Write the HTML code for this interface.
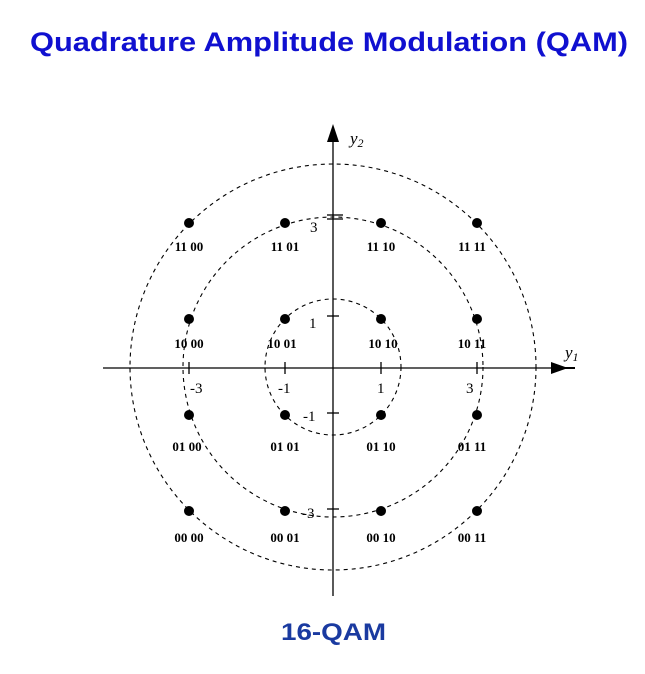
<!DOCTYPE html>
<html><head><style>
body{margin:0;background:#fff;width:645px;height:669px;overflow:hidden}
</style></head><body>
<svg width="645" height="669" xmlns="http://www.w3.org/2000/svg">
<text x="30" y="51" textLength="598" lengthAdjust="spacingAndGlyphs" font-family="Liberation Sans, sans-serif" font-weight="bold" font-size="27" fill="#1010d0">Quadrature Amplitude Modulation (QAM)</text>
<text x="281" y="640" textLength="105" lengthAdjust="spacingAndGlyphs" font-family="Liberation Sans, sans-serif" font-weight="bold" font-size="24" fill="#1a3aa0">16-QAM</text>
<g fill="none" stroke="#000" stroke-width="1.1" stroke-dasharray="4,4">
<circle cx="333" cy="367" r="68"/>
<circle cx="333" cy="367" r="150"/>
<circle cx="333" cy="367" r="203"/>
</g>
<g stroke="#000" stroke-width="1.3">
<line x1="103" y1="368" x2="555" y2="368"/>
<line x1="333" y1="140" x2="333" y2="596"/>
<line x1="189" y1="362" x2="189" y2="374"/>
<line x1="285" y1="362" x2="285" y2="374"/>
<line x1="381" y1="362" x2="381" y2="374"/>
<line x1="477" y1="362" x2="477" y2="374"/>
<line x1="327" y1="215" x2="343" y2="215"/>
<line x1="327" y1="219" x2="343" y2="219"/>
<line x1="327" y1="316" x2="339" y2="316"/>
<line x1="327" y1="413" x2="339" y2="413"/>
<line x1="327" y1="509" x2="339" y2="509"/>
</g>
<polygon points="551,362 551,374 568,368" fill="#000"/>
<line x1="565" y1="368" x2="575" y2="368" stroke="#000" stroke-width="2"/>
<polygon points="327,142 339,142 333,124" fill="#000"/>
<g font-family="Liberation Serif, serif" font-style="italic" font-size="17">
<text x="350" y="144">y<tspan font-size="12" dy="3">2</tspan></text>
<text x="565" y="358">y<tspan font-size="12" dy="3">1</tspan></text>
</g>
<g font-family="Liberation Serif, serif" font-size="15">
<text x="310" y="232">3</text><text x="309" y="328">1</text>
<text x="303" y="421">-1</text><text x="302" y="518">-3</text>
<text x="190" y="393">-3</text><text x="278" y="393">-1</text>
<text x="377" y="393">1</text><text x="466" y="393">3</text>
</g>
<g fill="#000">
<circle cx="189" cy="223" r="5"/><circle cx="285" cy="223" r="5"/><circle cx="381" cy="223" r="5"/><circle cx="477" cy="223" r="5"/>
<circle cx="189" cy="319" r="5"/><circle cx="285" cy="319" r="5"/><circle cx="381" cy="319" r="5"/><circle cx="477" cy="319" r="5"/>
<circle cx="189" cy="415" r="5"/><circle cx="285" cy="415" r="5"/><circle cx="381" cy="415" r="5"/><circle cx="477" cy="415" r="5"/>
<circle cx="189" cy="511" r="5"/><circle cx="285" cy="511" r="5"/><circle cx="381" cy="511" r="5"/><circle cx="477" cy="511" r="5"/>
</g>
<g font-family="Liberation Serif, serif" font-weight="bold" font-size="13" text-anchor="middle">
<text x="189" y="251">11 00</text><text x="285" y="251">11 01</text><text x="381" y="251">11 10</text><text x="472" y="251">11 11</text>
<text x="189" y="348">10 00</text><text x="282" y="348">10 01</text><text x="383" y="348">10 10</text><text x="472" y="348">10 11</text>
<text x="187" y="451">01 00</text><text x="285" y="451">01 01</text><text x="381" y="451">01 10</text><text x="472" y="451">01 11</text>
<text x="189" y="542">00 00</text><text x="285" y="542">00 01</text><text x="381" y="542">00 10</text><text x="472" y="542">00 11</text>
</g>
</svg>
</body></html>
